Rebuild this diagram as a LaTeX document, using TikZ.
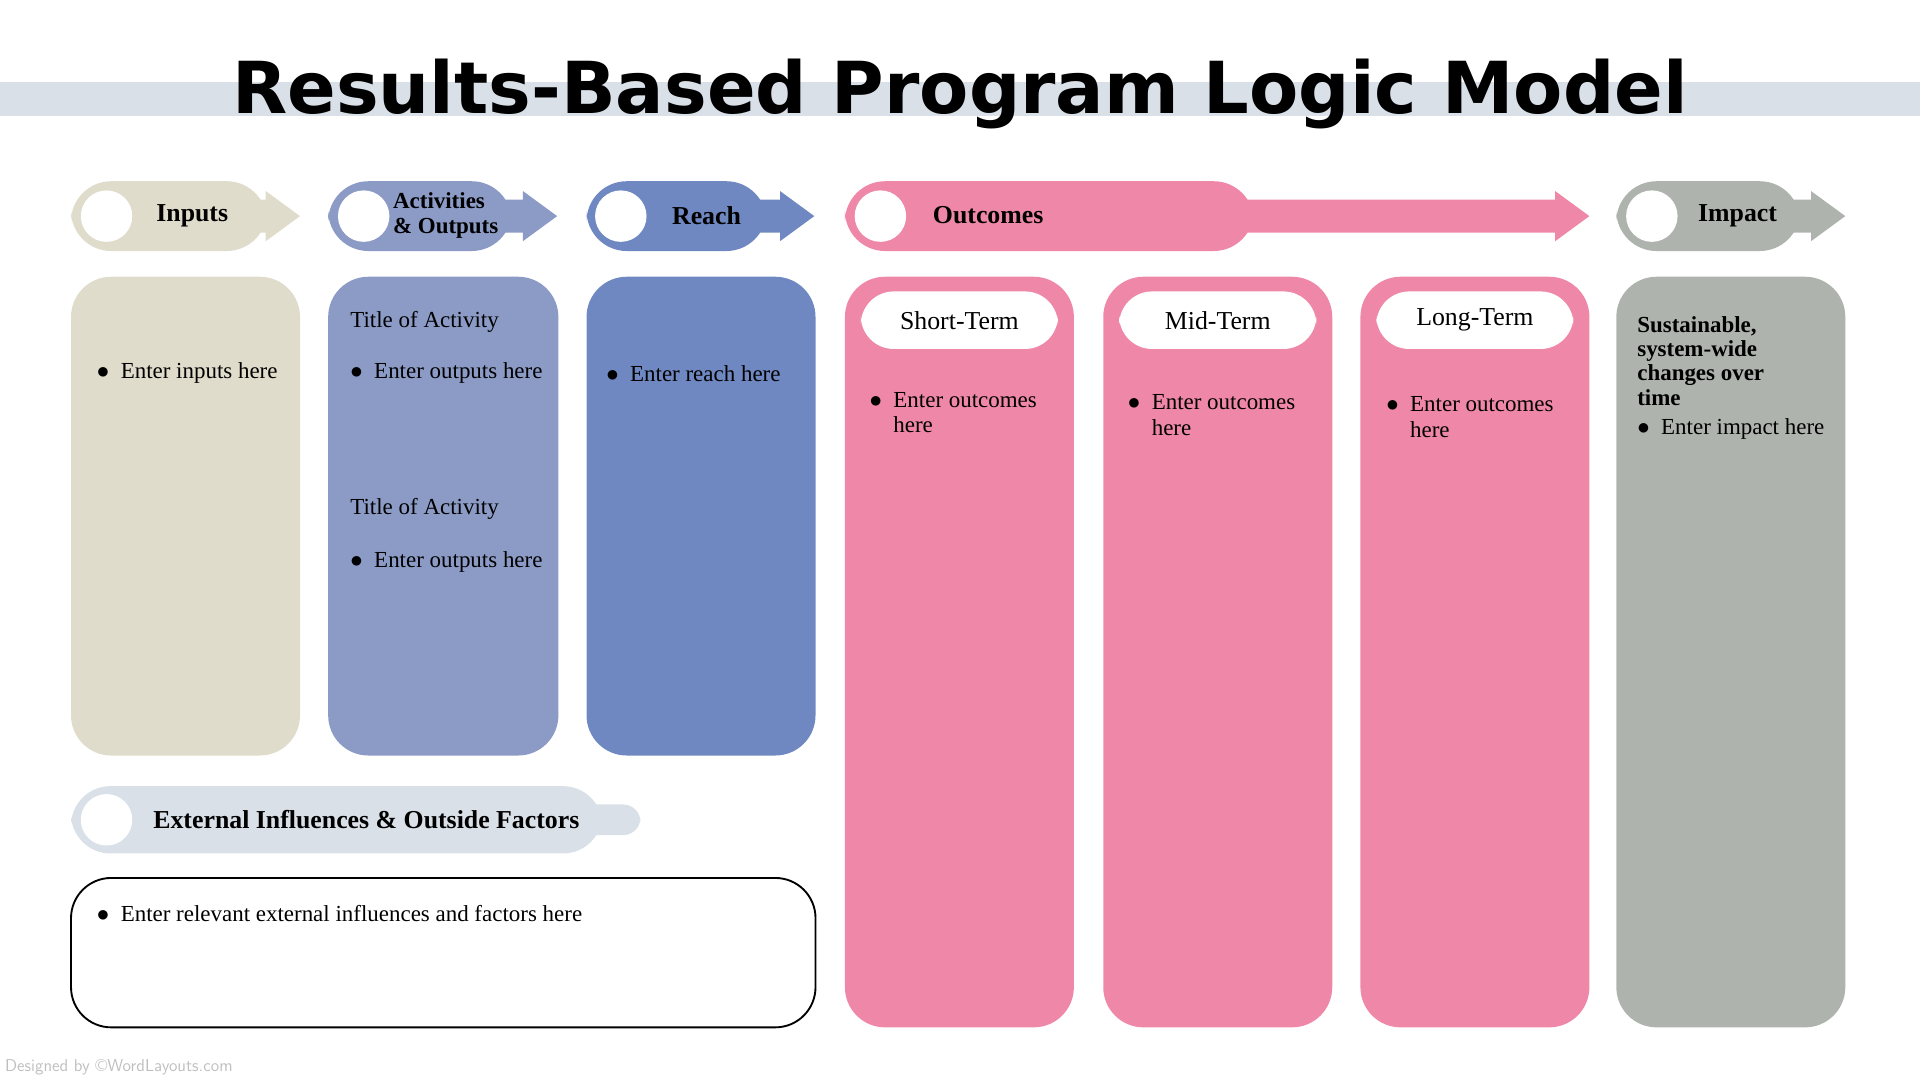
\documentclass[tikz,border=0pt]{standalone}
\usepackage{fontspec}
\setmainfont{Liberation Serif}
\newfontfamily\titlefont{DejaVu Sans}
\usetikzlibrary{positioning}

\definecolor{bandgray}{HTML}{D9E0E8}
\definecolor{inputcol}{HTML}{DFDCCB}
\definecolor{actcol}{HTML}{8C9BC6}
\definecolor{reachcol}{HTML}{6F88C1}
\definecolor{outcol}{HTML}{EF87A8}
\definecolor{impcol}{HTML}{AFB3AE}

\tikzset{
    column/.style={rounded corners=28, fill=#1},
    head/.style={font=\fontsize{18}{20}\selectfont\bfseries, align=left},
    entry/.style={anchor=west, font=\fontsize{16}{18}\selectfont, align=left},
    subpill/.style={fill=white, rounded corners=23, minimum width=161*0.3mm, minimum height=47*0.3mm, font=\fontsize{18}{20}\selectfont},
    dot/.style={circle, fill=white, minimum size=42*0.3mm, inner sep=0pt}
}

% pill with arrow: left, pill end, tip, colour
\newcommand{\headarrow}[4]{
    \fill[#4, rounded corners=28] (#1,148) rectangle (#2,205);
    \fill[#4] ({#2-20},163) -- ({#3-28},163) -- ({#3-28},156) -- (#3,176.5)
        -- ({#3-28},197) -- ({#3-28},190) -- ({#2-20},190) -- cycle;
}

\begin{document}
\begin{tikzpicture}[x=0.3mm, y=-0.3mm]
    \useasboundingbox (0,0) rectangle (1568,882);

    % title
    \fill[bandgray] (0,67) rectangle (1568,95);
    \node[font=\titlefont\bfseries\fontsize{50}{56}\selectfont, anchor=base] (title) at (784,93) {Results-Based Program Logic Model};

    % header arrows
    \headarrow{58}{218}{245}{inputcol}
    \headarrow{268}{418}{455}{actcol}
    \headarrow{479}{626}{665}{reachcol}
    \headarrow{690}{1024}{1298}{outcol}
    \headarrow{1320}{1470}{1507}{impcol}

    \node[dot] (d1) at (87,176.5) {};
    \node[dot] (d2) at (297,176.5) {};
    \node[dot] (d3) at (507,176.5) {};
    \node[dot] (d4) at (719,176.5) {};
    \node[dot] (d5) at (1349,176.5) {};

    \node[head] (hin) at (157,176) {Inputs};
    \node[head, font=\fontsize{16}{18}\selectfont\bfseries] (hact) at (364,176) {Activities\\ \& Outputs};
    \node[head] (hreach) at (577,176) {Reach};
    \node[head] (hout) at (807,176) {Outcomes};
    \node[head] (himp) at (1419,176) {Impact};

    % columns
    \fill[column=inputcol] (58,226) rectangle (245,617);
    \fill[column=actcol] (268,226) rectangle (456,617);
    \fill[column=reachcol] (479,226) rectangle (666,617);
    \fill[column=outcol] (690,226) rectangle (877,839);
    \fill[column=outcol] (901,226) rectangle (1088,839);
    \fill[column=outcol] (1111,226) rectangle (1298,839);
    \fill[column=impcol] (1320,226) rectangle (1507,839);

    \node[subpill] (st) at (783.5,261.5) {Short-Term};
    \node[subpill] (mt) at (994.5,261.5) {Mid-Term};
    \node[subpill] (lt) at (1204.5,261.5) {Long-Term};

    % column texts
    \node[entry] (e1) at (75,305) {$\bullet$\enspace Enter inputs here};
    \node[entry] (a1) at (282,263) {Title of Activity};
    \node[entry] (a2) at (282,305) {$\bullet$\enspace Enter outputs here};
    \node[entry] (a3) at (282,416) {Title of Activity};
    \node[entry] (a4) at (282,459) {$\bullet$\enspace Enter outputs here};
    \node[entry] (r1) at (491,305) {$\bullet$\enspace Enter reach here};
    \node[entry, anchor=north west] (o1) at (706,316) {$\bullet$\enspace Enter outcomes\\\phantom{$\bullet$\enspace}here};
    \node[entry, anchor=north west] (o2) at (917,318) {$\bullet$\enspace Enter outcomes\\\phantom{$\bullet$\enspace}here};
    \node[entry, anchor=north west] (o3) at (1128,320) {$\bullet$\enspace Enter outcomes\\\phantom{$\bullet$\enspace}here};
    \node[entry, anchor=north west, font=\fontsize{16}{17}\selectfont\bfseries] (i1) at (1333,254) {Sustainable,\\system-wide\\changes over\\time};
    \node[entry] (i2) at (1333,350) {$\bullet$\enspace Enter impact here};

    % external influences
    \fill[bandgray, rounded corners=12] (470,657) rectangle (523,682);
    \fill[bandgray, rounded corners=27.5] (58,642) rectangle (492,697);
    \node[dot] (d6) at (87,669.5) {};
    \node[head, anchor=west, inner sep=0pt] (hext) at (125,669) {External Influences \& Outside Factors};
    \draw[line width=1.3pt, rounded corners=28] (58,717) rectangle (666,839);
    \node[entry] (x1) at (75,746) {$\bullet$\enspace Enter relevant external influences and factors here};

    \node[anchor=west, text=black!25, font=\sffamily\fontsize{12}{14}\selectfont] (credit) at (0,872) {Designed by \textcopyright WordLayouts.com};
\end{tikzpicture}
\end{document}
